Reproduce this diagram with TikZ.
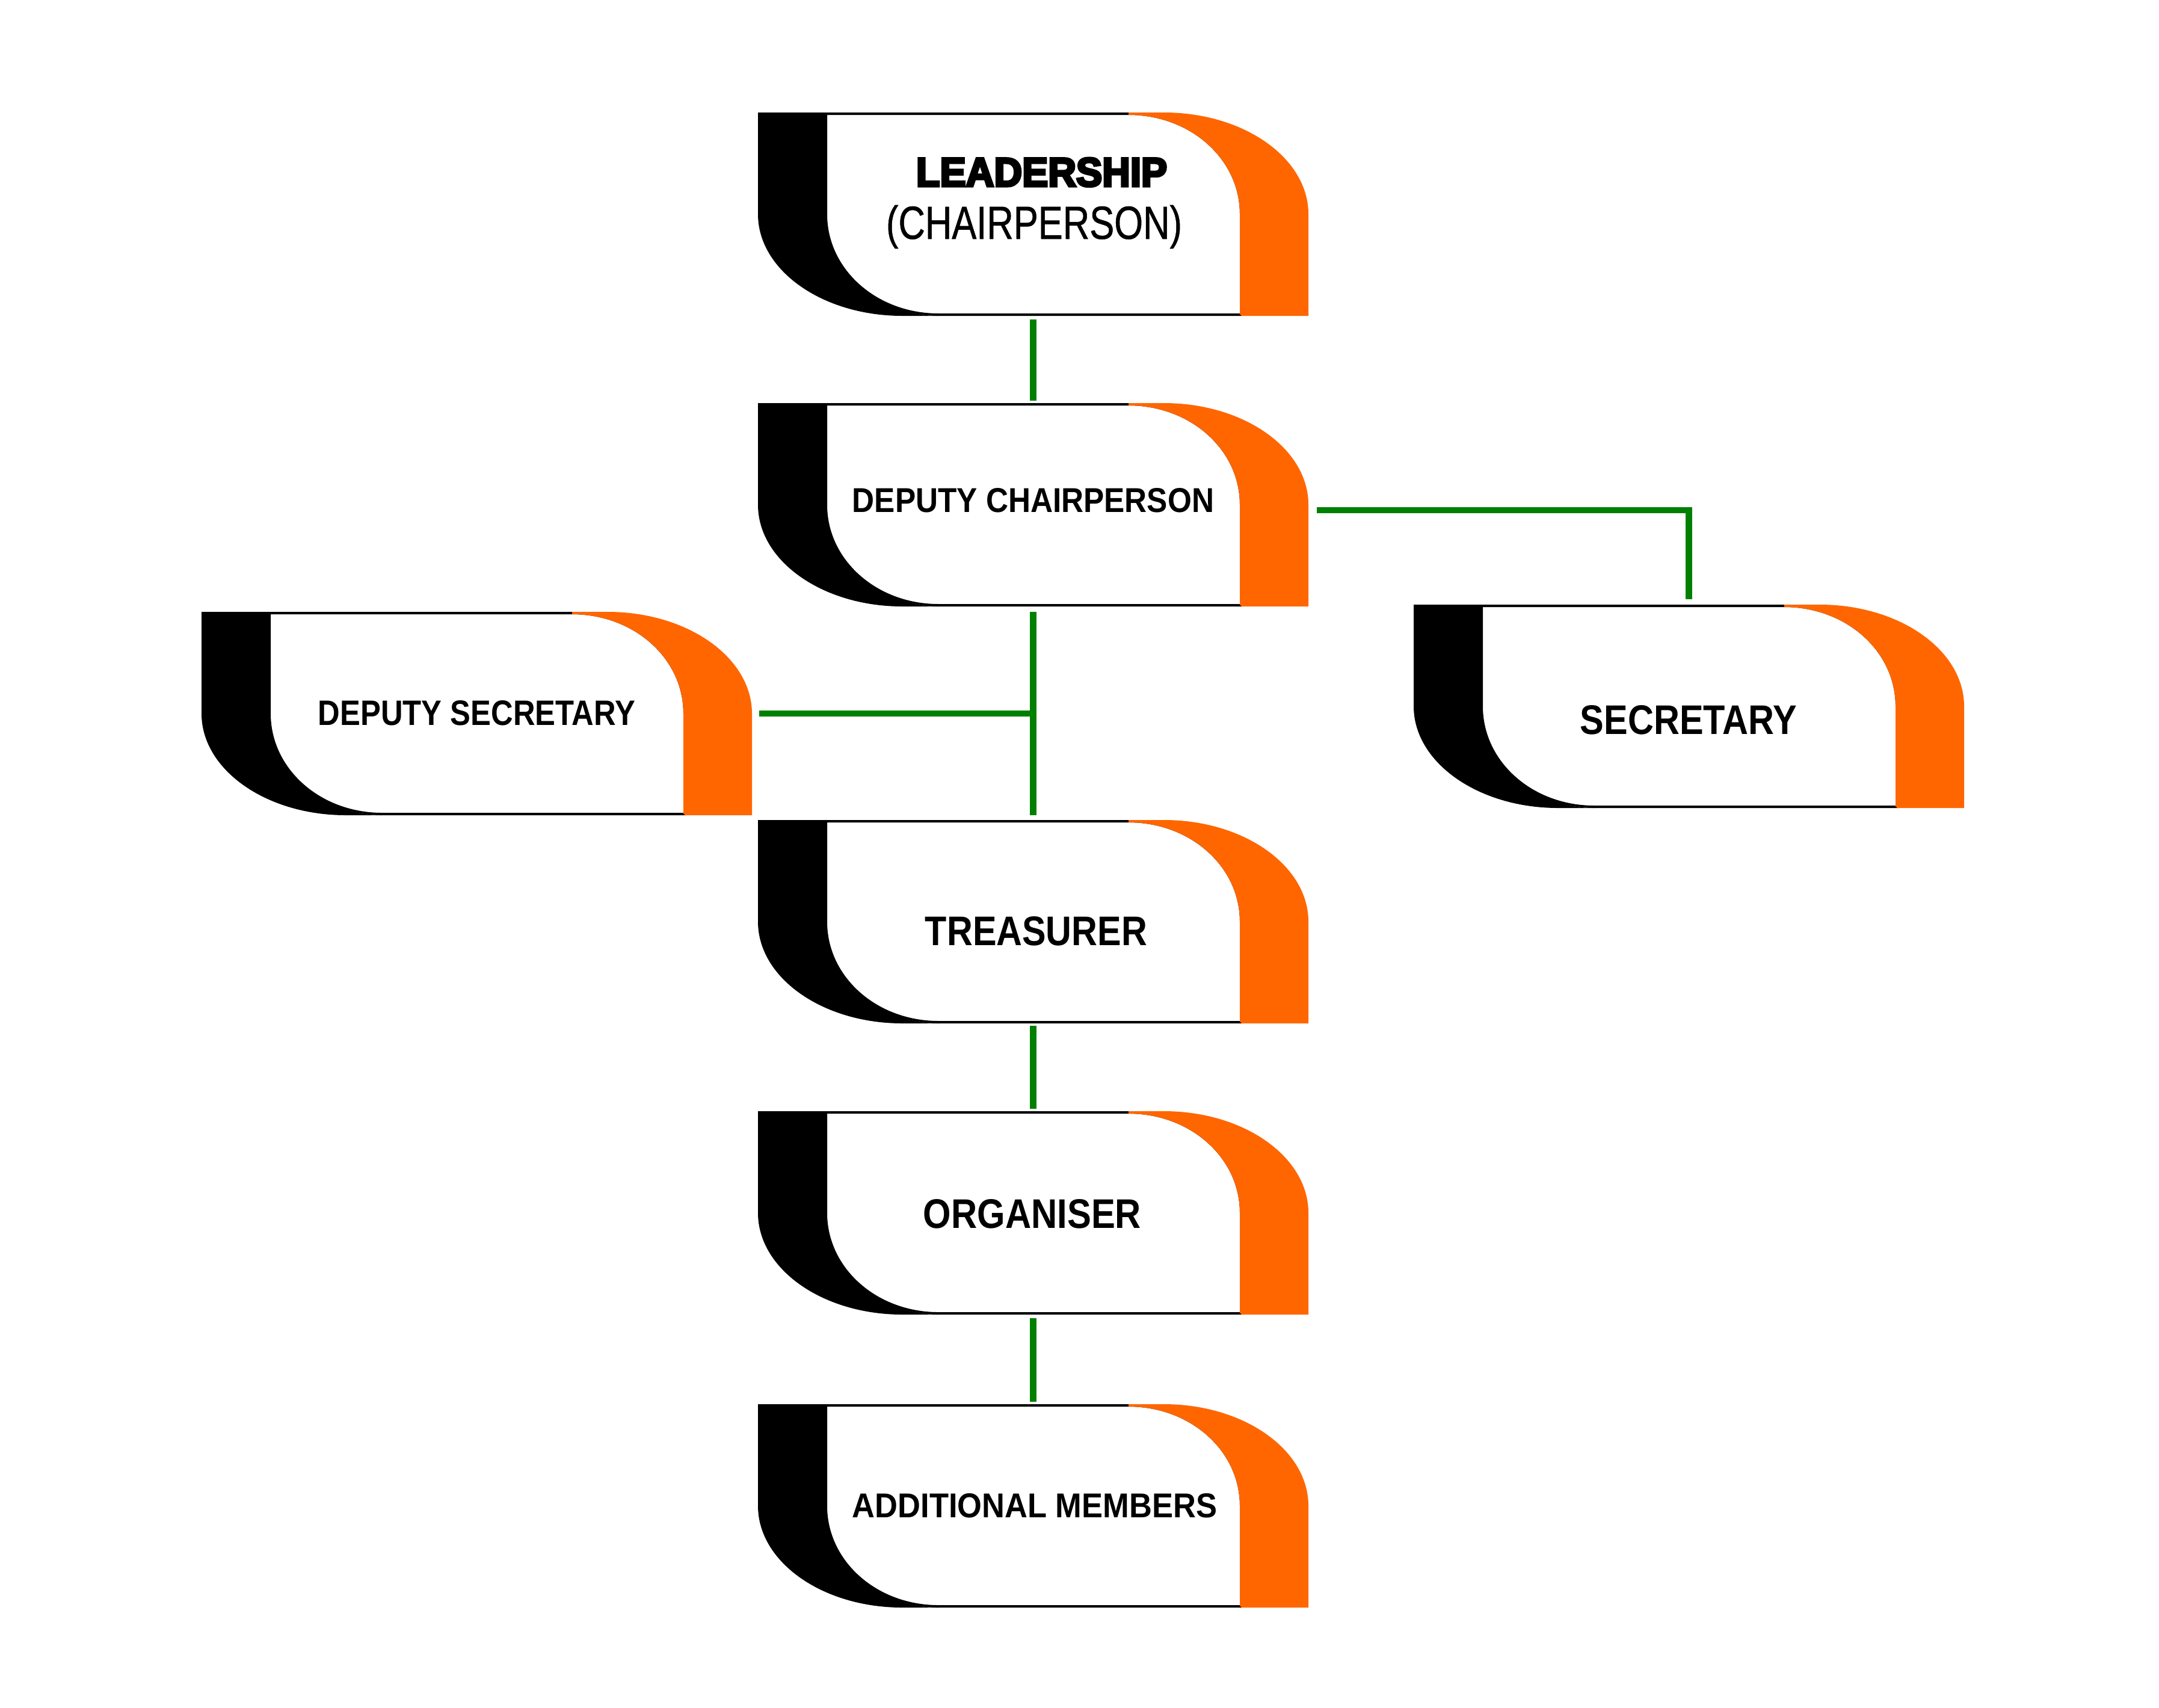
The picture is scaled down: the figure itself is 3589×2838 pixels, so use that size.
\documentclass[tikz,border=0pt]{standalone}
\usepackage{fontspec}
\setmainfont{Liberation Sans}
\newfontfamily\heavyf[FakeBold=6]{Liberation Sans Bold}
\newfontfamily\boldf{Liberation Sans Bold}
\newfontfamily\regf[FakeBold=0.8]{Liberation Sans}
\usetikzlibrary{calc}
\definecolor{orgorange}{RGB}{255,102,0}
\definecolor{conngreen}{RGB}{0,128,0}
\newcommand\fittext[3]{\resizebox{#1pt}{#2pt}{#3}}
\tikzset{
  boxnode/.style={draw=none, inner sep=0pt, minimum width=915pt, minimum height=338pt},
  lbl/.style={inner sep=0pt, anchor=base},
  conn/.style={draw=conngreen, line width=10.5pt},
  edgeline/.style={draw=black, line width=4pt}
}
% outer corner: 240 x 169, inner corner: 187 x 169 (quarter ellipses)
\newcommand\orgbox[3]{%
  \pgfmathsetmacro\obL{#2}%
  \pgfmathsetmacro\obT{#3}%
  \pgfmathsetmacro\obR{#2+915}%
  \pgfmathsetmacro\obB{#3+338}%
  \pgfmathsetmacro\obMy{#3+169}%
  \pgfmathsetmacro\oiL{#2+113}%
  \pgfmathsetmacro\oiR{#2+803}%
  % white inner panel with its thin black outline
  \filldraw[fill=white, edgeline] (\oiL,\obT+2) -- (\oiR-187,\obT+2)
     .. controls (\oiR-187+103.3,\obT+2) and (\oiR,\obMy-93.3) .. (\oiR,\obMy)
     -- (\oiR,\obB-2) -- (\oiL+187,\obB-2)
     .. controls (\oiL+187-103.3,\obB-2) and (\oiL,\obMy+93.3) .. (\oiL,\obMy) -- cycle;
  % orange crescent on the right
  \fill[orgorange] (\oiR-187,\obT) -- (\obR-240,\obT)
     .. controls (\obR-240+132.6,\obT) and (\obR,\obMy-93.3) .. (\obR,\obMy)
     -- (\obR,\obB) -- (\oiR,\obB) -- (\oiR,\obMy)
     .. controls (\oiR,\obMy-93.3) and (\oiR-187+103.3,\obT+2) .. (\oiR-187,\obT+2) -- cycle;
  \draw[orgorange, line width=4pt] (\oiR-187,\obT+2)
     .. controls (\oiR-187+103.3,\obT+2) and (\oiR,\obMy-93.3) .. (\oiR,\obMy) -- (\oiR,\obB-2);
  % black crescent on the left
  \fill[black] (\obL,\obT) -- (\oiL,\obT) -- (\oiL,\obMy)
     .. controls (\oiL,\obMy+93.3) and (\oiL+187-103.3,\obB) .. (\oiL+187,\obB)
     -- (\obL+240,\obB)
     .. controls (\obL+240-132.6,\obB) and (\obL,\obMy+93.3) .. (\obL,\obMy) -- cycle;
  \node[boxnode] (#1) at (#2+457.5,\obMy) {};
}
\begin{document}
\begin{tikzpicture}[x=1pt,y=-1pt]
\fill[white] (0,0) rectangle (3589,2838);
\useasboundingbox (0,0) rectangle (3589,2838);

\orgbox{lead}{1260}{187}
\orgbox{dc}{1260}{670}
\orgbox{ds}{335}{1017}
\orgbox{sec}{2350}{1005}
\orgbox{tr}{1260}{1363}
\orgbox{org}{1260}{1847}
\orgbox{add}{1260}{2334}

\node[lbl] (tlead) at (1731.5,309.5) {\fittext{417}{47}{\heavyf LEADERSHIP}};
\node[lbl] (tchair) at (1719,397) {\fittext{492}{56}{\regf (CHAIRPERSON)}};
\node[lbl] (tdc) at (1717.5,851) {\fittext{601}{40}{\boldf DEPUTY CHAIRPERSON}};
\node[lbl] (tds) at (792.5,1205.5) {\fittext{527}{41}{\boldf DEPUTY SECRETARY}};
\node[lbl] (tsec) at (2807,1220) {\fittext{360}{48}{\boldf SECRETARY}};
\node[lbl] (ttr) at (1722.5,1571) {\fittext{369}{48}{\boldf TREASURER}};
\node[lbl] (torg) at (1716,2041) {\fittext{362}{48}{\boldf ORGANISER}};
\node[lbl] (tadd) at (1720,2522) {\fittext{606}{40}{\boldf ADDITIONAL MEMBERS}};

\draw[conn, shorten <=6pt, shorten >=4pt] (lead.south) -- (dc.north);
\draw[conn] ([yshift=-9pt]dc.south) -- ([yshift=8pt]tr.north);
\draw[conn] ([xshift=12pt]ds.east) -- (ds.east -| dc.south);
\draw[conn] ([xshift=14pt,yshift=-9pt]dc.east) -| ([yshift=9pt]sec.north);
\draw[conn, shorten <=4pt, shorten >=4pt] (tr.south) -- (org.north);
\draw[conn, shorten <=6pt, shorten >=4pt] (org.south) -- (add.north);
\end{tikzpicture}
\end{document}
